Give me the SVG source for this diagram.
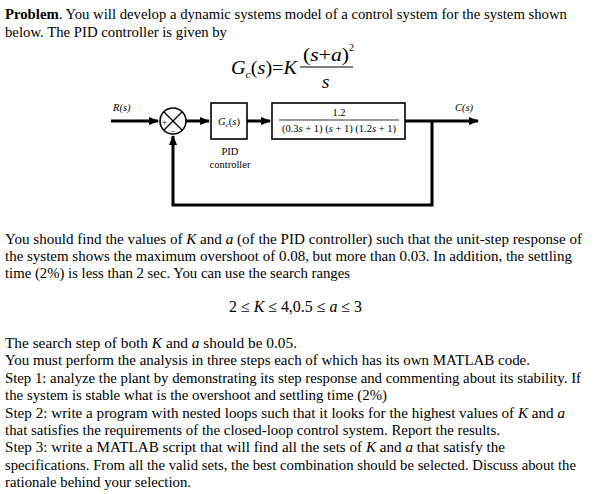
<svg xmlns="http://www.w3.org/2000/svg" width="614" height="494" viewBox="0 0 614 494">
<style>
.t{font-family:"Liberation Serif",serif;font-size:14.5px;fill:#000}
.i{font-style:italic}
.s{font-family:"Liberation Serif",serif;font-size:10.5px;fill:#000}
.f{font-family:"Liberation Serif",serif;font-size:19px;fill:#000}
.w{stroke:#000;stroke-width:3;fill:none}
.b{stroke:#000;stroke-width:1.6;fill:#fff}
</style>
<defs><marker id="ah" markerWidth="10" markerHeight="8" refX="9" refY="4" orient="auto" markerUnits="userSpaceOnUse"><path d="M0,0 L10,4 L0,8 Z" fill="#000"/></marker></defs>
<rect width="614" height="494" fill="#fff"/>
<text class="t" x="5" y="19" textLength="562" lengthAdjust="spacingAndGlyphs"><tspan font-weight="bold">Problem</tspan>. You will develop a dynamic systems model of a control system for the system shown</text>
<text class="t" x="5" y="37" textLength="222" lengthAdjust="spacingAndGlyphs">below. The PID controller is given by</text>
<g id="formula">
<text class="f" x="231" y="74" textLength="66" lengthAdjust="spacingAndGlyphs"><tspan class="i">G</tspan><tspan class="i" style="font-size:11px" dy="4">c</tspan><tspan dy="-4">(</tspan><tspan class="i">s</tspan>)=<tspan class="i">K</tspan></text>
<text class="f" x="303" y="61" textLength="46" lengthAdjust="spacingAndGlyphs">(<tspan class="i">s</tspan>+<tspan class="i">a</tspan>)</text>
<text class="f" x="349" y="51" style="font-size:10px">2</text>
<line x1="300" y1="67" x2="353" y2="67" stroke="#000" stroke-width="1"/>
<text class="f i" x="322" y="88">s</text>
</g>
<g id="connectors">
<line class="w" x1="111" y1="121" x2="158" y2="121" marker-end="url(#ah)"/>
<line class="w" x1="186" y1="121" x2="209" y2="121" marker-end="url(#ah)"/>
<line class="w" x1="247" y1="121" x2="270" y2="121" marker-end="url(#ah)"/>
<line class="w" x1="405" y1="121" x2="478" y2="121" marker-end="url(#ah)"/>
<polyline class="w" points="432,121 432,205 173,205 173,136" marker-end="url(#ah)"/>
</g>
<g id="sum">
<circle cx="173" cy="121" r="13" class="b"/>
<line x1="164" y1="112" x2="182" y2="130" stroke="#000" stroke-width="1.2"/>
<line x1="182" y1="112" x2="164" y2="130" stroke="#000" stroke-width="1.2"/>
<text class="s" x="162" y="125" style="font-size:9px">+</text>
<text class="s" x="170" y="134" style="font-size:9px">−</text>
</g>
<g id="labels"><text class="s i" x="113" y="111">R(s)</text><text class="s i" x="455" y="111">C(s)</text></g>
<g id="pid">
<rect x="211" y="103" width="36" height="36" class="b"/>
<text class="s" x="229" y="125" text-anchor="middle"><tspan class="i">G</tspan><tspan class="i" style="font-size:7px" dy="2">c</tspan><tspan dy="-2">(</tspan><tspan class="i">s</tspan>)</text>
<text class="s" x="230" y="155" text-anchor="middle">PID</text>
<text class="s" x="230" y="168" text-anchor="middle">controller</text>
</g>
<g id="plant">
<rect x="272" y="103" width="133" height="36" class="b"/>
<text class="s" x="339" y="116" text-anchor="middle">1.2</text>
<line x1="279" y1="120" x2="399" y2="120" stroke="#000" stroke-width="0.8"/>
<text class="s" x="339" y="132" text-anchor="middle">(0.3<tspan class="i">s</tspan> + 1) (<tspan class="i">s</tspan> + 1) (1.2<tspan class="i">s</tspan> + 1)</text>
</g>
<text class="t" x="5" y="244" textLength="577" lengthAdjust="spacingAndGlyphs">You should find the values of <tspan class="i">K</tspan> and <tspan class="i">a</tspan> (of the PID controller) such that the unit-step response of</text>
<text class="t" x="5" y="261" textLength="567" lengthAdjust="spacingAndGlyphs">the system shows the maximum overshoot of 0.08, but more than 0.03. In addition, the settling</text>
<text class="t" x="5" y="278" textLength="345" lengthAdjust="spacingAndGlyphs">time (2%) is less than 2 sec. You can use the search ranges</text>
<text class="t" x="229" y="312" style="font-size:16px" textLength="133" lengthAdjust="spacingAndGlyphs">2 ≤ <tspan class="i">K</tspan> ≤ 4,0.5 ≤ <tspan class="i">a</tspan> ≤ 3</text>
<text class="t" x="5" y="348" textLength="292" lengthAdjust="spacingAndGlyphs">The search step of both <tspan class="i">K</tspan> and <tspan class="i">a</tspan> should be 0.05.</text>
<text class="t" x="5" y="365" textLength="525" lengthAdjust="spacingAndGlyphs">You must perform the analysis in three steps each of which has its own MATLAB code.</text>
<text class="t" x="5" y="383" textLength="576" lengthAdjust="spacingAndGlyphs">Step 1: analyze the plant by demonstrating its step response and commenting about its stability. If</text>
<text class="t" x="5" y="400" textLength="382" lengthAdjust="spacingAndGlyphs">the system is stable what is the overshoot and settling time (2%)</text>
<text class="t" x="5" y="418" textLength="560" lengthAdjust="spacingAndGlyphs">Step 2: write a program with nested loops such that it looks for the highest values of <tspan class="i">K</tspan> and <tspan class="i">a</tspan></text>
<text class="t" x="5" y="435" textLength="495" lengthAdjust="spacingAndGlyphs">that satisfies the requirements of the closed-loop control system. Report the results.</text>
<text class="t" x="5" y="452" textLength="500" lengthAdjust="spacingAndGlyphs">Step 3: write a MATLAB script that will find all the sets of <tspan class="i">K</tspan> and <tspan class="i">a</tspan> that satisfy the</text>
<text class="t" x="5" y="470" textLength="571" lengthAdjust="spacingAndGlyphs">specifications. From all the valid sets, the best combination should be selected. Discuss about the</text>
<text class="t" x="5" y="487" textLength="186" lengthAdjust="spacingAndGlyphs">rationale behind your selection.</text>
</svg>
